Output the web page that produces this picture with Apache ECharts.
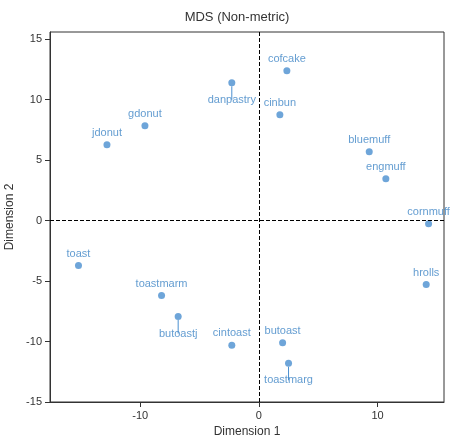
<!DOCTYPE html><html><head><meta charset="utf-8"><script src="https://cdn.jsdelivr.net/npm/echarts@6/dist/echarts.min.js"></script></head><body style="margin:0"><div id="c" style="width:474px;height:440px"></div><script>
const names=["cofcake","danpastry","cinbun","gdonut","jdonut","bluemuff","engmuff","cornmuff","toast","hrolls","toastmarm","butoastj","cintoast","butoast","toastmarg"];
const xs=[2.36,-2.28,1.77,-9.6,-12.8,9.3,10.7,14.3,-15.2,14.1,-8.2,-6.8,-2.28,2.0,2.5];
const ys=[12.4,11.4,8.76,7.85,6.28,5.7,3.47,-0.25,-3.72,-5.29,-6.2,-7.93,-10.3,-10.1,-11.8];
const xTicks=[-10,0,10];
const below=["danpastry","butoastj","toastmarg"];
const ch=echarts.init(document.getElementById('c'));
const data=names.map((n,i)=>{const b=below.includes(n);return {name:n,value:[xs[i],ys[i]],
 label:b?{position:'bottom',distance:8}:{position:'top',distance:3},labelLine:{show:b,lineStyle:{color:'#4a8fd0',width:1}}};});
const ax={type:'value',splitLine:{show:false},axisLine:{onZero:false,lineStyle:{color:'#333'}},axisTick:{show:true,lineStyle:{color:'#333'}},nameLocation:'middle',nameTextStyle:{color:'#333',fontSize:12}};
ch.setOption({
 title:{text:'MDS (Non-metric)',left:'center',top:6,textStyle:{fontSize:13,fontWeight:'normal',color:'#333'}},
 grid:{left:50,right:30,top:32,bottom:38,show:true,borderColor:'#333',borderWidth:1,outerBoundsMode:'none',containLabel:false},
 xAxis:Object.assign({},ax,{min:-17.6,max:15.6,name:'Dimension 1',nameGap:22,axisLabel:{color:'#333',fontSize:11,customValues:xTicks},axisTick:{show:true,customValues:xTicks,lineStyle:{color:'#333'}}}),
 yAxis:Object.assign({},ax,{min:-15,max:15.6,interval:5,name:'Dimension 2',nameGap:28,axisLabel:{color:'#333',fontSize:11,showMaxLabel:false}}),
 series:[{type:'scatter',symbolSize:7,itemStyle:{color:'#4a8fd0'},data:data,
  label:{show:true,formatter:'{b}',color:'#3d85c6',fontSize:11},
  markLine:{silent:true,symbol:'none',label:{show:false},lineStyle:{color:'#000',type:'dashed',width:1},data:[{xAxis:0},{yAxis:0}]}}]
});
</script></body></html>
